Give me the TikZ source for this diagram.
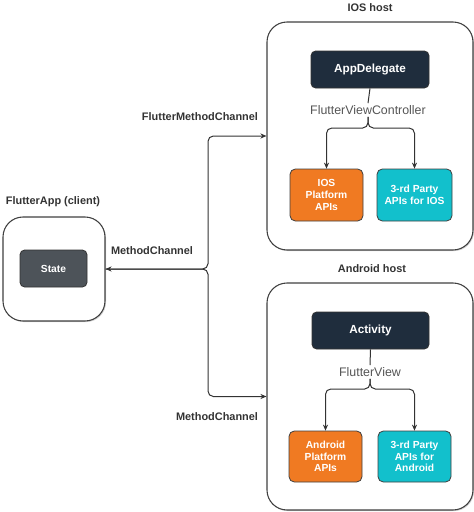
\documentclass[tikz,border=0pt]{standalone}
\usepackage{fontspec}
\setmainfont{Liberation Sans}
\usetikzlibrary{arrows.meta,shadows}
\definecolor{navy}{HTML}{1F2D3D}
\definecolor{stategray}{HTML}{4D5359}
\definecolor{orng}{HTML}{F07A22}
\definecolor{cyn}{HTML}{12C0CC}
\definecolor{txt}{HTML}{333333}
\definecolor{lbl}{HTML}{555555}
\tikzset{
  frame/.style={draw=black!75, line width=0.8pt, fill=white, rounded corners=15pt, inner sep=0pt,
    drop shadow={opacity=0.35, shadow xshift=0.8pt, shadow yshift=-0.8pt}},
  darkbox/.style={draw=black!80, line width=0.6pt, fill=navy, rounded corners=3.5pt, text=white,
    font=\bfseries\fontsize{8.8}{10}\selectfont, inner sep=0pt},
  statebox/.style={draw=black!80, line width=0.6pt, fill=stategray, rounded corners=3.5pt, text=white,
    font=\bfseries\fontsize{7.7}{9}\selectfont, inner sep=0pt},
  apibox/.style={draw=black!75, line width=0.6pt, rounded corners=4pt, text=white, align=center,
    font=\bfseries\fontsize{7.7}{8.8}\selectfont, inner sep=0pt},
  head/.style={text=txt, font=\bfseries\fontsize{8.2}{10}\selectfont, inner sep=1pt},
  viewlbl/.style={text=lbl, font=\fontsize{9.3}{11}\selectfont, inner sep=1.5pt},
  conn/.style={draw=txt, line width=0.75pt, rounded corners=4pt},
  arr/.style={-{Stealth[length=4.5pt,width=3.8pt]}},
  arrb/.style={{Stealth[length=4.5pt,width=3.8pt]}-{Stealth[length=4.5pt,width=3.8pt]}},
}
\begin{document}
\begin{tikzpicture}[x=0.75pt,y=-0.75pt]
\useasboundingbox (0,0) rectangle (474,512);
% outer frames
\node[frame, minimum width=154.5pt, minimum height=171pt] (ios) at (370,136) {};
\node[frame, minimum width=154.5pt, minimum height=170.25pt] (android) at (370,396.5) {};
\node[frame, minimum width=76.5pt, minimum height=78pt] (app) at (54,269) {};
% headers
\node[head] (ioshead) at (370,8) {IOS host};
\node[head] (andhead) at (372,269) {Android host};
\node[head] (apphead) at (53,202) {FlutterApp (client)};
\node[head] (fmc) at (200,117) {FlutterMethodChannel};
\node[head] (mc1) at (152,251) {MethodChannel};
\node[head] (mc2) at (217,417) {MethodChannel};
% inner nodes
\node[statebox, minimum width=50.25pt, minimum height=27.75pt] (state) at (53.5,268.5) {State};
\node[darkbox, minimum width=88.5pt, minimum height=27.75pt] (appdel) at (370,69.5) {AppDelegate};
\node[darkbox, minimum width=87.75pt, minimum height=27.75pt] (activity) at (370.5,330.5) {Activity};
\node[apibox, fill=orng, minimum width=54.75pt, minimum height=39pt] (iosapi) at (326.5,195) {IOS\\Platform\\APIs};
\node[apibox, fill=cyn, minimum width=56.25pt, minimum height=39pt] (ios3) at (414.5,195) {3-rd Party\\APIs for IOS};
\node[apibox, fill=orng, minimum width=54.75pt, minimum height=38.25pt] (andapi) at (325.5,456.5) {Android\\Platform\\APIs};
\node[apibox, fill=cyn, minimum width=54.75pt, minimum height=38.25pt] (and3) at (414.5,456.5) {3-rd Party\\APIs for\\Android};
% view labels
\node[viewlbl] (fvc) at (368,110) {FlutterViewController};
\node[viewlbl] (fv) at (370,372) {FlutterView};
% coordinates
\coordinate (j) at (208,269);
\coordinate (s1) at (368,128);
\coordinate (s2) at (370,389);
% connectors
\draw[conn, arrb] (app.east) -- (j) |- (ios.west);
\draw[conn, arr] (app.east) -- (j) |- (android.west);
\draw[conn] (appdel.south) -- (fvc.north);
\draw[conn, arr] (fvc.south) -- (s1) -| (iosapi.north);
\draw[conn, arr] (fvc.south) -- (s1) -| (ios3.north);
\draw[conn] (activity.south) -- (fv.north);
\draw[conn, arr] (fv.south) -- (s2) -| (andapi.north);
\draw[conn, arr] (fv.south) -- (s2) -| (and3.north);
\end{tikzpicture}
\end{document}
